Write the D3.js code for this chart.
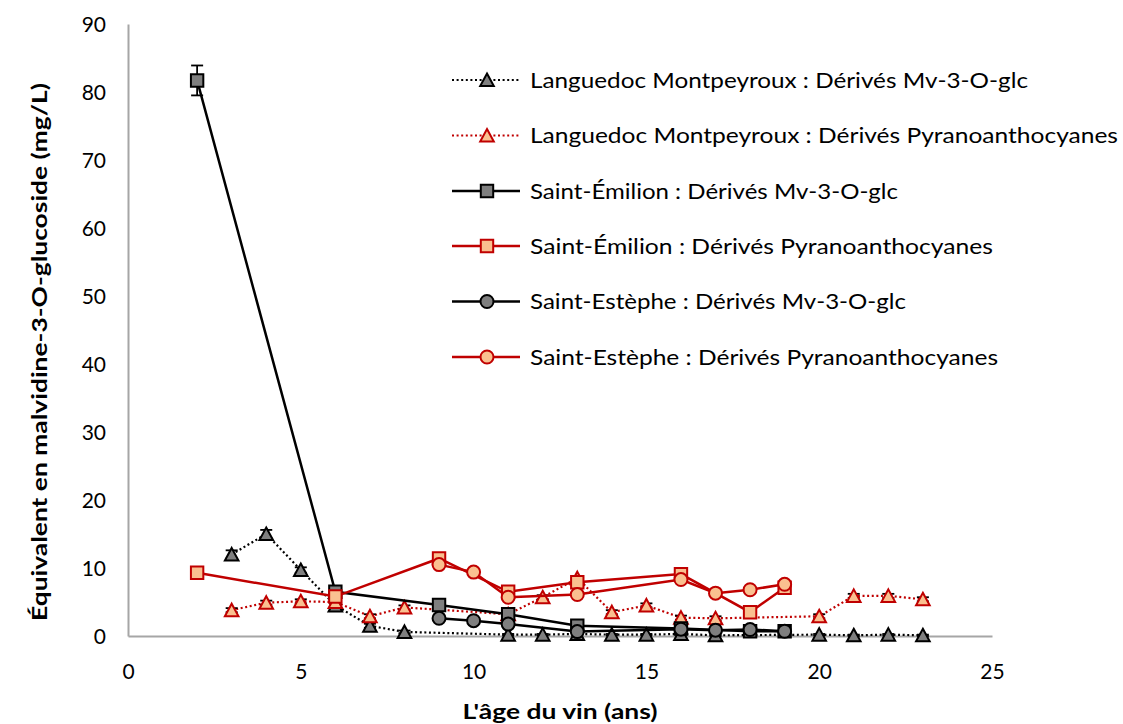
<!DOCTYPE html>
<html>
<head>
<meta charset="utf-8">
<script src="https://cdn.jsdelivr.net/npm/d3@7"></script>
<style>
  html, body { margin: 0; padding: 0; background: #fff; }
  svg { display: block; font-family: Lato, "Open Sans", "Liberation Sans", sans-serif; }
</style>
</head>
<body>
<svg id="chart" width="1123" height="724"></svg>
<script>
// Wine age (years) and anthocyanin-derived pigment levels (mg/L malvidin-3-O-glucoside eq.)
const agesLanguedoc = [3, 4, 5, 6, 7, 8, 11, 12, 13, 14, 15, 16, 17, 20, 21, 22, 23];
const languedocMv   = [12.0, 15.0, 9.7, 4.5, 1.5, 0.6, 0.2, 0.2, 0.3, 0.2, 0.2, 0.3, 0.1, 0.2, 0.1, 0.2, 0.1];
const languedocMvErr = [0.6, 0.6, 0.4, 0.3, 0.3, 0.2, 0.1, 0.1, 0.1, 0.1, 0.1, 0.1, 0.1, 0.1, 0.1, 0.1, 0.1];
const languedocPyr  = [3.8, 4.9, 5.1, 5.0, 2.9, 4.2, 3.2, 5.7, 8.5, 3.5, 4.5, 2.7, 2.6, 2.9, 5.9, 5.9, 5.4];
const languedocPyrErr = [0.3, 0.3, 0.3, 0.3, 0.3, 0.3, 0.3, 0.3, 0.3, 0.3, 0.3, 0.3, 0.3, 0.3, 0.3, 0.3, 0.3];

const agesEmilion = [2, 6, 9, 11, 13, 16, 18, 19];
const emilionMv    = [81.7, 6.5, 4.55, 3.2, 1.5, 1.1, 0.7, 0.7];
const emilionMvErr = [2.2, 0.3, 0.3, 0.3, 0.2, 0.2, 0.1, 0.1];
const emilionPyr   = [9.3, 5.8, 11.4, 6.5, 7.9, 9.1, 3.5, 7.1];

const agesEstephe = [9, 10, 11, 13, 16, 17, 18, 19];
const estepheMv   = [2.6, 2.25, 1.75, 0.65, 1.0, 0.85, 0.95, 0.7];
const estephePyr  = [10.5, 9.4, 5.7, 6.1, 8.3, 6.3, 6.8, 7.6];

const xTicks = [0, 5, 10, 15, 20, 25];
const yTicks = [0, 10, 20, 30, 40, 50, 60, 70, 80, 90];

const seriesNames = [
  "Languedoc Montpeyroux : Dérivés Mv-3-O-glc",
  "Languedoc Montpeyroux : Dérivés Pyranoanthocyanes",
  "Saint-Émilion : Dérivés Mv-3-O-glc",
  "Saint-Émilion : Dérivés Pyranoanthocyanes",
  "Saint-Estèphe : Dérivés Mv-3-O-glc",
  "Saint-Estèphe : Dérivés Pyranoanthocyanes"
];

const GRAY = "#7f7f7f", PEACH = "#fac090", RED = "#c00000", BLACK = "#000";

function zip(xs, ys, es) {
  return xs.map((x, i) => ({ x, y: ys[i], e: es ? es[i] : 0 }));
}

const series = [
  { name: seriesNames[0], data: zip(agesLanguedoc, languedocMv, languedocMvErr), shape: "triangle", fill: GRAY, stroke: BLACK, line: BLACK, dotted: true },
  { name: seriesNames[1], data: zip(agesLanguedoc, languedocPyr, languedocPyrErr), shape: "triangle", fill: PEACH, stroke: RED, line: RED, dotted: true },
  { name: seriesNames[2], data: zip(agesEmilion, emilionMv, emilionMvErr), shape: "square", fill: GRAY, stroke: BLACK, line: BLACK, dotted: false },
  { name: seriesNames[3], data: zip(agesEmilion, emilionPyr), shape: "square", fill: PEACH, stroke: RED, line: RED, dotted: false },
  { name: seriesNames[4], data: zip(agesEstephe, estepheMv), shape: "circle", fill: GRAY, stroke: BLACK, line: BLACK, dotted: false },
  { name: seriesNames[5], data: zip(agesEstephe, estephePyr), shape: "circle", fill: PEACH, stroke: RED, line: RED, dotted: false }
];

const svg = d3.select("#chart");
const x = d3.scaleLinear().domain([0, 25]).range([128, 992]);
const y = d3.scaleLinear().domain([0, 90]).range([636, 24]);

// Axes: gray baseline lines, no tick marks
const xAxis = svg.append("g").attr("transform", `translate(0,${y(0)})`)
  .call(d3.axisBottom(x).tickValues(xTicks).tickSize(0).tickPadding(26));
const yAxis = svg.append("g").attr("transform", `translate(${x(0)},0)`)
  .call(d3.axisLeft(y).tickValues(yTicks).tickSize(0).tickPadding(22));
[xAxis, yAxis].forEach(g => {
  g.select(".domain").attr("stroke", "#a6a6a6").attr("stroke-width", 2);
  g.selectAll("text").attr("font-size", 21).attr("fill", "#000")
    .attr("font-family", "Lato, 'Open Sans', sans-serif");
});
yAxis.selectAll("text").attr("dy", "0.35em");
xAxis.selectAll("text").attr("dy", "0.35em").attr("y", 36);

// Axis titles
svg.append("text")
  .attr("x", 560).attr("y", 719)
  .attr("text-anchor", "middle")
  .attr("font-size", 20).attr("font-weight", "bold")
  .attr("textLength", 195).attr("lengthAdjust", "spacingAndGlyphs")
  .text("L'âge du vin (ans)");

svg.append("text")
  .attr("transform", "translate(47,352) rotate(-90)")
  .attr("text-anchor", "middle")
  .attr("font-size", 20).attr("font-weight", "bold")
  .attr("textLength", 538).attr("lengthAdjust", "spacingAndGlyphs")
  .text("Équivalent en malvidine-3-O-glucoside (mg/L)");

// Marker shapes, centred on the point
function markerPath(shape) {
  if (shape === "triangle") return "M0,-6.5L6.8,6L-6.8,6Z";
  if (shape === "square") return "M-6.2,-6.2H6.2V6.2H-6.2Z";
  return d3.symbol(d3.symbolCircle, Math.PI * 6.5 * 6.5)();
}

const line = d3.line().x(d => x(d.x)).y(d => y(d.y));
const plot = svg.append("g");

series.forEach(s => {
  const g = plot.append("g");
  g.append("path")
    .datum(s.data)
    .attr("d", line)
    .attr("fill", "none")
    .attr("stroke", s.line)
    .attr("stroke-width", s.dotted ? 2.2 : 2.5)
    .attr("stroke-dasharray", s.dotted ? "2,2.6" : null);

  // error bars
  const eb = g.append("g").attr("stroke", BLACK).attr("stroke-width", 1.8);
  s.data.filter(d => d.e > 0).forEach(d => {
    const cx = x(d.x), y1 = y(d.y + d.e), y2 = y(d.y - d.e);
    eb.append("line").attr("x1", cx).attr("x2", cx).attr("y1", y1).attr("y2", y2);
    eb.append("line").attr("x1", cx - 6).attr("x2", cx + 6).attr("y1", y1).attr("y2", y1);
    eb.append("line").attr("x1", cx - 6).attr("x2", cx + 6).attr("y1", y2).attr("y2", y2);
  });

  g.selectAll(".mk").data(s.data).join("path")
    .attr("class", "mk")
    .attr("d", markerPath(s.shape))
    .attr("transform", d => `translate(${x(d.x)},${y(d.y)})`)
    .attr("fill", s.fill)
    .attr("stroke", s.stroke)
    .attr("stroke-width", 2);
});

// Legend
const legendY = [80, 135.5, 191, 246, 301.5, 357];
const legendWidths = [498, 588, 368, 463, 376, 468];
const legend = svg.append("g");
series.forEach((s, i) => {
  const row = legend.append("g").attr("transform", `translate(0,${legendY[i]})`);
  row.append("line")
    .attr("x1", 452).attr("x2", 520).attr("y1", 0).attr("y2", 0)
    .attr("stroke", s.line)
    .attr("stroke-width", s.dotted ? 2.2 : 2.5)
    .attr("stroke-dasharray", s.dotted ? "2,2.6" : null);
  row.append("path")
    .attr("d", markerPath(s.shape))
    .attr("transform", "translate(487,0)")
    .attr("fill", s.fill).attr("stroke", s.stroke).attr("stroke-width", 2);
  row.append("text")
    .attr("x", 530).attr("y", 0).attr("dy", "0.35em")
    .attr("font-size", 22)
    .attr("textLength", legendWidths[i]).attr("lengthAdjust", "spacingAndGlyphs")
    .text(s.name);
});
</script>
</body>
</html>
